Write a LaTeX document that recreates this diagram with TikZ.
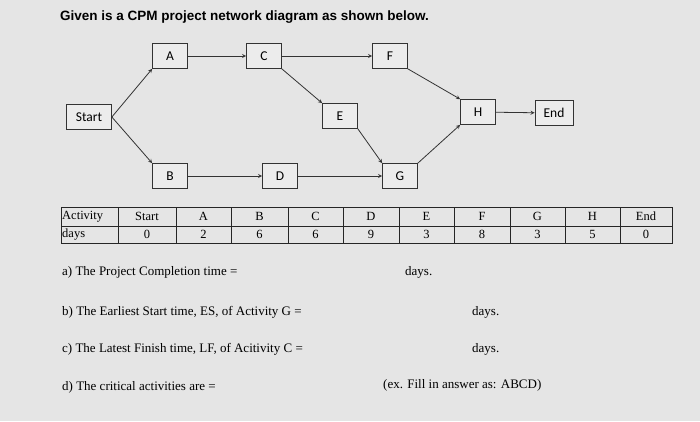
\documentclass[tikz,border=0pt]{standalone}
\usepackage{fontspec}
\setmainfont{Liberation Serif}
\newfontfamily\boxfont{Carlito}
\newfontfamily\titlefont{Liberation Sans}
\begin{document}
\begin{tikzpicture}[x=1pt,y=-1pt,
  act/.style={draw=black!80,line width=0.7pt,fill=white!85!gray,minimum width=35pt,minimum height=25pt,inner sep=0pt,font=\boxfont\fontsize{13.5}{15}\selectfont},
  arr/.style={->,draw=black!80,line width=0.8pt,>=stealth},
  q/.style={anchor=west,font=\fontsize{13}{15}\selectfont,inner sep=0pt}]
\fill[black!10] (0,0) rectangle (700,421);
\useasboundingbox (0,0) rectangle (700,421);
\node[anchor=west,inner sep=0pt,font=\titlefont\bfseries\fontsize{13.5}{15}\selectfont] (title) at (60,17) {Given is a CPM project network diagram as shown below.};
\node[act,minimum width=45pt] (start) at (89,117) {Start};
\node[act] (A) at (170,56) {A};
\node[act] (C) at (264,56) {C};
\node[act] (F) at (390,56) {F};
\node[act] (E) at (340,116) {E};
\node[act] (H) at (478,112) {H};
\node[act,minimum width=38pt] (End) at (554,113) {End};
\node[act] (B) at (170,176) {B};
\node[act] (D) at (280,176) {D};
\node[act] (G) at (400,176) {G};
\draw[arr] (start.east) -- (A.south west);
\draw[arr] (start.east) -- (B.north west);
\draw[arr] (A) -- (C);
\draw[arr] (C) -- (F);
\draw[arr] (C.south east) -- (E.north west);
\draw[arr] (B) -- (D);
\draw[arr] (D) -- (G);
\draw[arr] (E.south east) -- (G.north west);
\draw[arr] (F.south east) -- (H.north west);
\draw[arr] (G.north east) -- (H.south west);
\draw[arr] (H) -- (End);
% table
\fill[white!80!gray] (61,207) rectangle (672,243);
\draw[black!85,line width=0.8pt] (61,207) rectangle (672,243);
\draw[black!85,line width=0.8pt] (61,226) -- (672,226);
\foreach \x in {118,176,231,288,343,399,454,510,565,620} \draw[black!85,line width=0.8pt] (\x,207) -- (\x,243);
\node[anchor=west,inner sep=1pt,font=\fontsize{12.5}{13}\selectfont] (t1) at (61,216.5) {Activity};
\node[anchor=west,inner sep=1pt,font=\fontsize{12.5}{13}\selectfont] (t2) at (61,234.5) {days};
\foreach \xa/\xb/\h/\d in {118/176/Start/0,176/231/A/2,231/288/B/6,288/343/C/6,343/399/D/9,399/454/E/3,454/510/F/8,510/565/G/3,565/620/H/5,620/672/End/0}{
  \node[font=\fontsize{12.5}{13}\selectfont,inner sep=0pt] at ({(\xa+\xb)/2},216.5) {\h};
  \node[font=\fontsize{12.5}{13}\selectfont,inner sep=0pt] at ({(\xa+\xb)/2},234.5) {\d};
}
\node[q] (qa) at (62,272) {a) The Project Completion time =};
\node[q] (da) at (405,272) {days.};
\node[q] (qb) at (62,312) {b) The Earliest Start time, ES, of Activity G =};
\node[q] (db) at (472,312) {days.};
\node[q] (qc) at (62,349) {c) The Latest Finish time, LF, of Acitivity C =};
\node[q] (dc) at (472,349) {days.};
\node[q] (qd) at (62,387) {d) The critical activities are =};
\node[q] (dd) at (383,385) {(ex. Fill in answer as: ABCD)};
\end{tikzpicture}
\end{document}
